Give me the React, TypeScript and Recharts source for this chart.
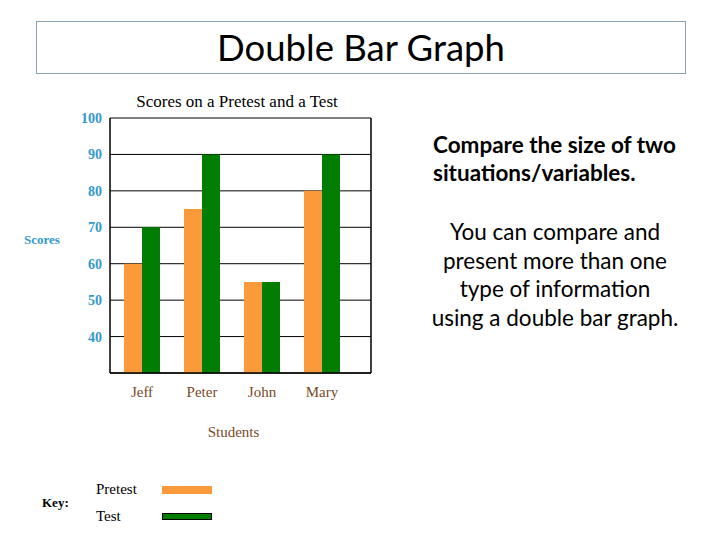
import { Bar, BarChart, CartesianGrid, XAxis, YAxis } from 'recharts';

const students = ['Jeff', 'Peter', 'John', 'Mary'];
const pretest = [60, 75, 55, 80];
const test = [70, 90, 55, 90];
const scoreTicks = [40, 50, 60, 70, 80, 90, 100];

const ORANGE = '#FB9A3A';
const GREEN = '#017D01';
const BLUE = '#3399CC';
const BROWN = '#7A4A2A';
const SERIF = '"Liberation Serif", "DejaVu Serif", serif';
const SANS = 'Lato, "Open Sans", sans-serif';

const data = students.map((name, i) => ({
  name,
  pretest: pretest[i],
  test: test[i],
}));

function KeyBox() {
  const row = { display: 'flex', alignItems: 'center', height: 27 };
  return (
    <div
      style={{
        position: 'absolute',
        left: 42,
        top: 476,
        fontFamily: SERIF,
        fontSize: 15,
        display: 'flex',
        alignItems: 'center',
      }}
    >
      <div style={{ fontWeight: 'bold', fontSize: 13, width: 54 }}>Key:</div>
      <div>
        <div style={row}>
          <span style={{ width: 66 }}>Pretest</span>
          <span style={{ width: 50, height: 8, background: ORANGE }} />
        </div>
        <div style={row}>
          <span style={{ width: 66 }}>Test</span>
          <span
            style={{
              width: 48,
              height: 5,
              background: GREEN,
              border: '1px solid #000',
            }}
          />
        </div>
      </div>
    </div>
  );
}

export default function App() {
  return (
    <div
      style={{
        position: 'absolute',
        left: 0,
        top: 0,
        width: 720,
        height: 540,
        background: '#fff',
        overflow: 'hidden',
      }}
    >
      <div
        style={{
          position: 'absolute',
          left: 36,
          top: 21,
          width: 648,
          height: 51,
          border: '1px solid #8AA2B8',
          fontFamily: SANS,
          fontSize: 36.5,
          lineHeight: '51px',
          textAlign: 'center',
          color: '#000',
        }}
      >
        Double Bar Graph
      </div>

      <div
        style={{
          position: 'absolute',
          left: 90,
          top: 92,
          width: 294,
          textAlign: 'center',
          fontFamily: SERIF,
          fontSize: 17,
        }}
      >
        Scores on a Pretest and a Test
      </div>

      <BarChart
        width={400}
        height={540}
        data={data}
        barGap={0}
        barSize={18}
        margin={{ top: 118, right: 28, left: 10, bottom: 137 }}
        style={{ position: 'absolute', left: 0, top: 0 }}
      >
        <CartesianGrid vertical={false} stroke="#000" strokeOpacity={1} />
        <XAxis
          dataKey="name"
          height={30}
          padding={{ left: 2, right: 19 }}
          tickLine={false}
          axisLine={{ stroke: '#000', strokeWidth: 1.5 }}
          tickMargin={7}
          tick={{ fill: BROWN, fontFamily: SERIF, fontSize: 15 }}
          label={{
            value: 'Students',
            position: 'bottom',
            offset: 23,
            dx: -7,
            fill: BROWN,
            fontFamily: SERIF,
            fontSize: 15,
          }}
        />
        <YAxis
          width={100}
          domain={[30, 100]}
          ticks={scoreTicks}
          interval={0}
          tickLine={false}
          tickSize={0}
          tickMargin={8}
          axisLine={{ stroke: '#000', strokeWidth: 1.5 }}
          tick={{
            fill: BLUE,
            fontFamily: SERIF,
            fontSize: 14,
            fontWeight: 'bold',
          }}
          label={{
            value: 'Scores',
            position: 'insideLeft',
            offset: 14,
            dy: -6,
            fill: BLUE,
            fontFamily: SERIF,
            fontSize: 13,
            fontWeight: 'bold',
          }}
        />
        <YAxis
          yAxisId="frame"
          orientation="right"
          width={1}
          domain={[30, 100]}
          tick={false}
          tickLine={false}
          axisLine={{ stroke: '#000', strokeWidth: 1.5 }}
        />
        <Bar dataKey="pretest" fill={ORANGE} isAnimationActive={false} />
        <Bar dataKey="test" fill={GREEN} isAnimationActive={false} />
      </BarChart>

      <div
        style={{
          position: 'absolute',
          left: 433,
          top: 131,
          fontFamily: SANS,
          fontWeight: 'bold',
          fontSize: 22.5,
          lineHeight: '28px',
          whiteSpace: 'nowrap',
        }}
      >
        Compare the size of two
        <br />
        situations/variables.
      </div>

      <div
        style={{
          position: 'absolute',
          left: 410,
          top: 218,
          width: 290,
          textAlign: 'center',
          fontFamily: SANS,
          fontSize: 22.5,
          lineHeight: '28.7px',
          whiteSpace: 'nowrap',
        }}
      >
        You can compare and
        <br />
        present more than one
        <br />
        type of information
        <br />
        using a double bar graph.
      </div>

      <KeyBox />
    </div>
  );
}
